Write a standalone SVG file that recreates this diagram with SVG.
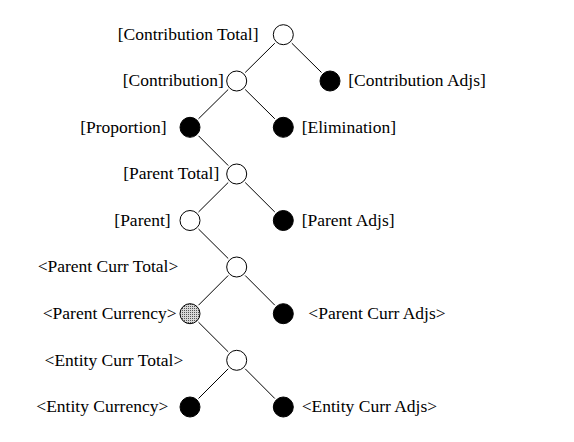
<svg xmlns="http://www.w3.org/2000/svg" width="574" height="442" viewBox="0 0 574 442">
<style>
text{font-family:"Liberation Serif","Times New Roman",serif;font-size:17.5px;fill:#000}
.l{text-anchor:end}
.o{fill:#fff;stroke:#000;stroke-width:1}
.f{fill:#000;stroke:#000;stroke-width:1}
.g{fill:url(#dots);stroke:#000;stroke-width:1}
#connectors line{stroke:#000;stroke-width:1}
</style>
<defs>
<pattern id="dots" width="2" height="2" patternUnits="userSpaceOnUse">
<rect width="2" height="2" fill="#d8d8d8"/>
<rect width="1" height="1" fill="#555"/>
</pattern>
</defs>
<rect width="574" height="442" fill="#fff"/>
<g id="connectors">
<line x1="274.8" y1="43.2" x2="245.2" y2="72.5"/>
<line x1="291.8" y1="43.2" x2="321.5" y2="72.5"/>
<line x1="228.2" y1="89.5" x2="198.5" y2="118.8"/>
<line x1="245.2" y1="89.5" x2="274.8" y2="118.8"/>
<line x1="198.5" y1="135.8" x2="228.2" y2="165.5"/>
<line x1="228.2" y1="182.5" x2="198.5" y2="212"/>
<line x1="245.2" y1="182.5" x2="274.8" y2="212"/>
<line x1="198.5" y1="229" x2="228.2" y2="258.5"/>
<line x1="228.2" y1="275.5" x2="198.5" y2="305.2"/>
<line x1="245.2" y1="275.5" x2="274.8" y2="305.2"/>
<line x1="198.5" y1="322.2" x2="228.2" y2="351.8"/>
<line x1="228.2" y1="368.8" x2="198.5" y2="398.5"/>
<line x1="245.2" y1="368.8" x2="274.8" y2="398.5"/>
</g>
<g id="contribution-total"><circle class="o" cx="283.3" cy="34.7" r="10"/><text class="l" x="258.5" y="40">[Contribution Total]</text></g>
<g id="contribution"><circle class="o" cx="236.7" cy="81" r="10"/><text class="l" x="223.8" y="86.3">[Contribution]</text></g>
<g id="contribution-adjs"><circle class="f" cx="330" cy="81" r="10"/><text x="348.3" y="86.3">[Contribution Adjs]</text></g>
<g id="proportion"><circle class="f" cx="190" cy="127.3" r="10"/><text class="l" x="166.7" y="132.6">[Proportion]</text></g>
<g id="elimination"><circle class="f" cx="283.3" cy="127.3" r="10"/><text x="301.7" y="132.6">[Elimination]</text></g>
<g id="parent-total"><circle class="o" cx="236.7" cy="174" r="10"/><text class="l" x="219.3" y="179.3">[Parent Total]</text></g>
<g id="parent"><circle class="o" cx="190" cy="220.5" r="10"/><text class="l" x="170.7" y="225.8">[Parent]</text></g>
<g id="parent-adjs"><circle class="f" cx="283.3" cy="220.5" r="10"/><text x="301.7" y="225.8">[Parent Adjs]</text></g>
<g id="parent-curr-total"><circle class="o" cx="236.7" cy="267" r="10"/><text class="l" x="178.3" y="272.3">&lt;Parent Curr Total&gt;</text></g>
<g id="parent-currency"><circle class="g" cx="190" cy="313.7" r="10"/><text class="l" x="176.7" y="319">&lt;Parent Currency&gt;</text></g>
<g id="parent-curr-adjs"><circle class="f" cx="283.3" cy="313.7" r="10"/><text x="308.3" y="319">&lt;Parent Curr Adjs&gt;</text></g>
<g id="entity-curr-total"><circle class="o" cx="236.7" cy="360.3" r="10"/><text class="l" x="183.3" y="365.6">&lt;Entity Curr Total&gt;</text></g>
<g id="entity-currency"><circle class="f" cx="190" cy="407" r="10"/><text class="l" x="168.3" y="412.3">&lt;Entity Currency&gt;</text></g>
<g id="entity-curr-adjs"><circle class="f" cx="283.3" cy="407" r="10"/><text x="301.7" y="412.3">&lt;Entity Curr Adjs&gt;</text></g>
</svg>
